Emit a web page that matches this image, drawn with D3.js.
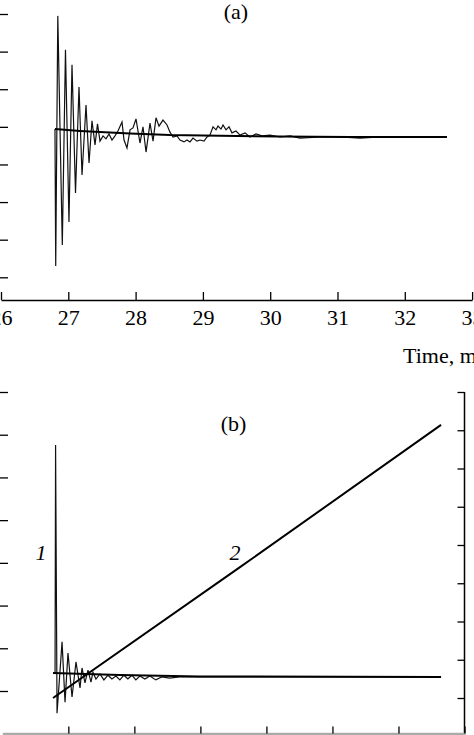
<!DOCTYPE html>
<html><head><meta charset="utf-8">
<script src="https://cdn.jsdelivr.net/npm/d3@7"></script>
<style>html,body{margin:0;padding:0;background:#fff;overflow:hidden}</style>
</head><body>
<svg id="c" width="474" height="735"></svg>
<script>
// ---------- data ----------
const timeTicks = [26, 27, 28, 29, 30, 31, 32, 33];
const aYTicks = [-4, -3, -2, -1, 0, 1, 2, 3];
const bLeftTicks = [0, 1, 2, 3, 4, 5, 6, 7];
const bRightTicks = [0, 1, 2, 3, 4, 5, 6, 7, 8];

// panel (a): measured signal
const aSignalTime = [26.802, 26.813, 26.844, 26.911, 26.958, 27.010, 27.055, 27.107, 27.159, 27.204,
  27.263, 27.308, 27.352, 27.397, 27.434, 27.471, 27.516, 27.560, 27.605, 27.649,
  27.694, 27.738, 27.798, 27.828, 27.872, 27.917, 27.961, 28.006, 28.065, 28.110,
  28.155, 28.214, 28.259, 28.303, 28.348, 28.407, 28.467, 28.511, 28.556, 28.615,
  28.660, 28.719, 28.764, 28.808, 28.853, 28.912, 28.957, 29.016, 29.061, 29.105,
  29.150, 29.195, 29.224, 29.269, 29.299, 29.343, 29.388, 29.432, 29.492, 29.551,
  29.626, 29.700, 29.789, 29.878, 29.997, 30.146, 30.294, 30.443, 30.740, 31.037,
  31.334, 31.632, 31.929, 32.226, 32.627];
const aSignalValue = [-0.06, -3.70, 2.95, -3.14, 2.05, -2.53, 1.65, -1.76, 1.06, -1.28,
  0.58, -0.96, 0.16, -0.48, 0.08, -0.38, -0.24, -0.32, -0.19, -0.35,
  -0.24, -0.11, 0.13, -0.35, -0.56, -0.08, -0.03, 0.21, -0.43, 0.00,
  -0.67, 0.10, -0.38, 0.24, 0.02, 0.18, 0.05, -0.14, -0.27, -0.24,
  -0.35, -0.40, -0.35, -0.40, -0.30, -0.38, -0.35, -0.38, -0.27, -0.22,
  0.00, -0.08, 0.02, -0.06, 0.05, -0.08, 0.00, -0.16, -0.11, -0.22,
  -0.16, -0.27, -0.19, -0.24, -0.22, -0.27, -0.24, -0.30, -0.27, -0.27,
  -0.30, -0.27, -0.27, -0.27, -0.27];
// panel (a): smooth trend
const aTrendTime = [26.802, 27.174, 27.471, 27.917, 28.511, 29.254, 30.146, 31.186, 32.627];
const aTrendValue = [-0.06, -0.11, -0.14, -0.18, -0.22, -0.24, -0.26, -0.27, -0.27];

// panel (b): curve 1 (left axis)
const b1Time = [26.799, 26.807, 26.829, 26.905, 26.950, 26.995, 27.056, 27.116, 27.177, 27.207,
  27.252, 27.298, 27.343, 27.373, 27.418, 27.479, 27.539, 27.600, 27.660, 27.721,
  27.781, 27.841, 27.902, 27.962, 28.023, 28.083, 28.159, 28.234, 28.325, 28.415,
  28.534, 28.687, 28.989, 29.594, 30.500, 32.645];
const b1Value = [0.42, 5.76, -0.52, 1.15, -0.26, 0.89, -0.14, 0.68, 0.07, 0.54,
  0.19, 0.49, 0.21, 0.44, 0.28, 0.40, 0.26, 0.37, 0.28, 0.35,
  0.26, 0.37, 0.28, 0.37, 0.26, 0.35, 0.28, 0.35, 0.26, 0.33,
  0.30, 0.33, 0.33, 0.33, 0.33, 0.33];
const b1TrendTime = [26.768, 27.780, 28.990, 32.645];
const b1TrendValue = [0.42, 0.375, 0.34, 0.33];
// panel (b): curve 2 (right axis)
const b2Time = [26.768, 29.600, 32.645];
const b2Value = [0, 3.42, 7.14];

// ---------- drawing ----------
const svg = d3.select("#c");
const FONT = "'Liberation Serif','Times New Roman',serif";
const zip = (t, v) => t.map((d, i) => ({t: d, v: v[i]}));

// panel (a) scales
const xA = d3.scaleLinear().domain([26, 33]).range([1, 472.1]);
const yA = d3.scaleLinear().domain([-4, 3]).range([277.3, 14]);
// panel (b) scales
const xB = d3.scaleLinear().domain([26, 33]).range([2.3, 464.5]);
const yBL = d3.scaleLinear().domain([0, 7]).range([691, 392]);
const yBR = d3.scaleLinear().domain([0, 8]).range([698, 392]);

function styleAxis(g, color) {
  g.selectAll("line").attr("stroke", color || "#000").attr("stroke-width", 1.3);
  g.selectAll("path").attr("stroke", color || "#000").attr("stroke-width", 1.5);
  g.selectAll("text").attr("font-family", FONT).attr("font-size", 22).attr("fill", "#000");
}

// ----- panel (a) -----
const gAx = svg.append("g").attr("transform", "translate(0,300)")
  .call(d3.axisBottom(xA).tickValues(timeTicks).tickSizeInner(-8).tickSizeOuter(0)
    .tickPadding(9.5).tickFormat(d3.format("d")));
styleAxis(gAx);

const gAy = svg.append("g").attr("transform", "translate(0,0)")
  .call(d3.axisRight(yA).tickValues(aYTicks).tickSize(8).tickFormat(""));
gAy.select(".domain").remove();
styleAxis(gAy);

svg.append("text").attr("x", 403).attr("y", 363).attr("font-family", FONT)
  .attr("font-size", 22).text("Time, ms");
svg.append("text").attr("x", 236).attr("y", 18.5).attr("text-anchor", "middle")
  .attr("font-family", FONT).attr("font-size", 22).text("(a)");

const lineA = d3.line().x(d => xA(d.t)).y(d => yA(d.v));
svg.append("path").datum(zip(aSignalTime, aSignalValue)).attr("d", lineA)
  .attr("fill", "none").attr("stroke", "#111").attr("stroke-width", 1.2)
  .attr("stroke-linejoin", "miter");
svg.append("path").datum(zip(aTrendTime, aTrendValue)).attr("d", lineA)
  .attr("fill", "none").attr("stroke", "#000").attr("stroke-width", 2);

// ----- panel (b) -----
const gBl = svg.append("g").attr("transform", "translate(0,0)")
  .call(d3.axisRight(yBL).tickValues(bLeftTicks).tickSize(8).tickFormat(""));
gBl.select(".domain").remove();
styleAxis(gBl);

const gBr = svg.append("g").attr("transform", "translate(464.5,0)")
  .call(d3.axisLeft(yBR).tickValues(bRightTicks).tickSize(7).tickFormat(""));
gBr.select(".domain").remove();
styleAxis(gBr);
svg.append("line").attr("x1", xB(33)).attr("x2", xB(33))
  .attr("y1", yBR(8)).attr("y2", 735).attr("stroke", "#000").attr("stroke-width", 1.5);

const gBx = svg.append("g").attr("transform", "translate(0,733.5)")
  .call(d3.axisTop(xB).tickValues(timeTicks.slice(1)).tickSize(7).tickSizeOuter(0).tickFormat(""));
styleAxis(gBx);
gBx.select(".domain").attr("stroke", "#aaa").attr("stroke-width", 2.5);

const lineBL = d3.line().x(d => xB(d.t)).y(d => yBL(d.v));
const lineBR = d3.line().x(d => xB(d.t)).y(d => yBR(d.v));
svg.append("path").datum(zip(b1Time, b1Value)).attr("d", lineBL)
  .attr("fill", "none").attr("stroke", "#111").attr("stroke-width", 1.2);
svg.append("path").datum(zip(b1TrendTime, b1TrendValue)).attr("d", lineBL)
  .attr("fill", "none").attr("stroke", "#000").attr("stroke-width", 2);
svg.append("path").datum(zip(b2Time, b2Value)).attr("d", lineBR)
  .attr("fill", "none").attr("stroke", "#000").attr("stroke-width", 2);

svg.append("text").attr("x", 233.5).attr("y", 430.5).attr("text-anchor", "middle")
  .attr("font-family", FONT).attr("font-size", 22).text("(b)");
svg.append("text").attr("x", 41).attr("y", 560).attr("text-anchor", "middle")
  .attr("font-family", FONT).attr("font-style", "italic").attr("font-size", 22).text("1");
svg.append("text").attr("x", 235).attr("y", 560).attr("text-anchor", "middle")
  .attr("font-family", FONT).attr("font-style", "italic").attr("font-size", 22).text("2");
</script>
</body></html>
